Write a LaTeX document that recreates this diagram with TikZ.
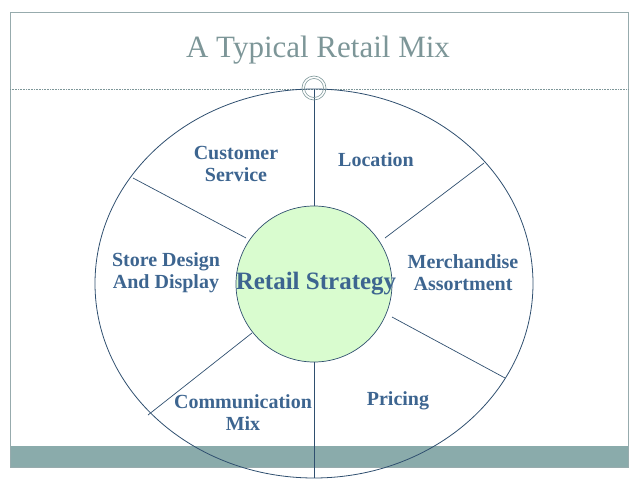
\documentclass[tikz,border=0pt]{standalone}
\usepackage{fontspec}
\setmainfont{Liberation Serif}
\definecolor{lab}{HTML}{3D6590}
\definecolor{line}{HTML}{2F4F6F}
\definecolor{ttl}{HTML}{7D9698}
\definecolor{bar}{HTML}{8AABAB}
\definecolor{fill}{HTML}{D9FCCF}
\begin{document}
\begin{tikzpicture}[x=1pt,y=-1pt,
  lbl/.style={font=\bfseries\fontsize{20}{22}\selectfont,text=lab,align=center},
  sp/.style={draw=line,line width=0.7pt}]
\useasboundingbox (0,0) rectangle (638,479);
\fill[bar] (10,446) rectangle (628,467);
\draw[ttl!80,line width=0.6pt] (10,12) rectangle (628,467);
\draw[ttl,densely dotted,line width=0.6pt] (10,89) -- (628,89);
\node[text=ttl,font=\fontsize{31}{34}\selectfont] (title) at (318,50) {A Typical Retail Mix};
\draw[line,line width=0.8pt] (314,283.5) ellipse [x radius=219, y radius=194.5];
\node[circle,draw=line,fill=fill,line width=0.7pt,minimum size=156pt,inner sep=0pt] (c) at (314,284) {};
\node[font=\bfseries\fontsize{25}{28}\selectfont,text=lab] (cl) at (316,284) {Retail Strategy};
\coordinate (t) at (314,89); \coordinate (b) at (314,478);
\coordinate (ul) at (133,178); \coordinate (ur) at (484,163);
\coordinate (lr) at (505,378); \coordinate (ll) at (148,415);
\draw[sp] (t) -- (c.north); \draw[sp] (c.south) -- (b);
\draw[sp] (ul) -- (246,238); \draw[sp] (ur) -- (385,238);
\draw[sp] (lr) -- (392,317); \draw[sp] (ll) -- (252,333);
\draw[ttl,line width=0.6pt] (314,88) circle (12);
\draw[ttl,line width=0.6pt] (314,88) circle (9.5);
\node[lbl] (cs) at (236,164) {Customer\\Service};
\node[lbl] (lo) at (376,160) {Location};
\node[lbl] (sd) at (166,273) {Store Design\\And Display};
\node[lbl] (ma) at (463,273) {Merchandise\\Assortment};
\node[lbl] (cm) at (243,413) {Communication\\Mix};
\node[lbl] (pr) at (398,401) {Pricing};
\end{tikzpicture}
\end{document}
